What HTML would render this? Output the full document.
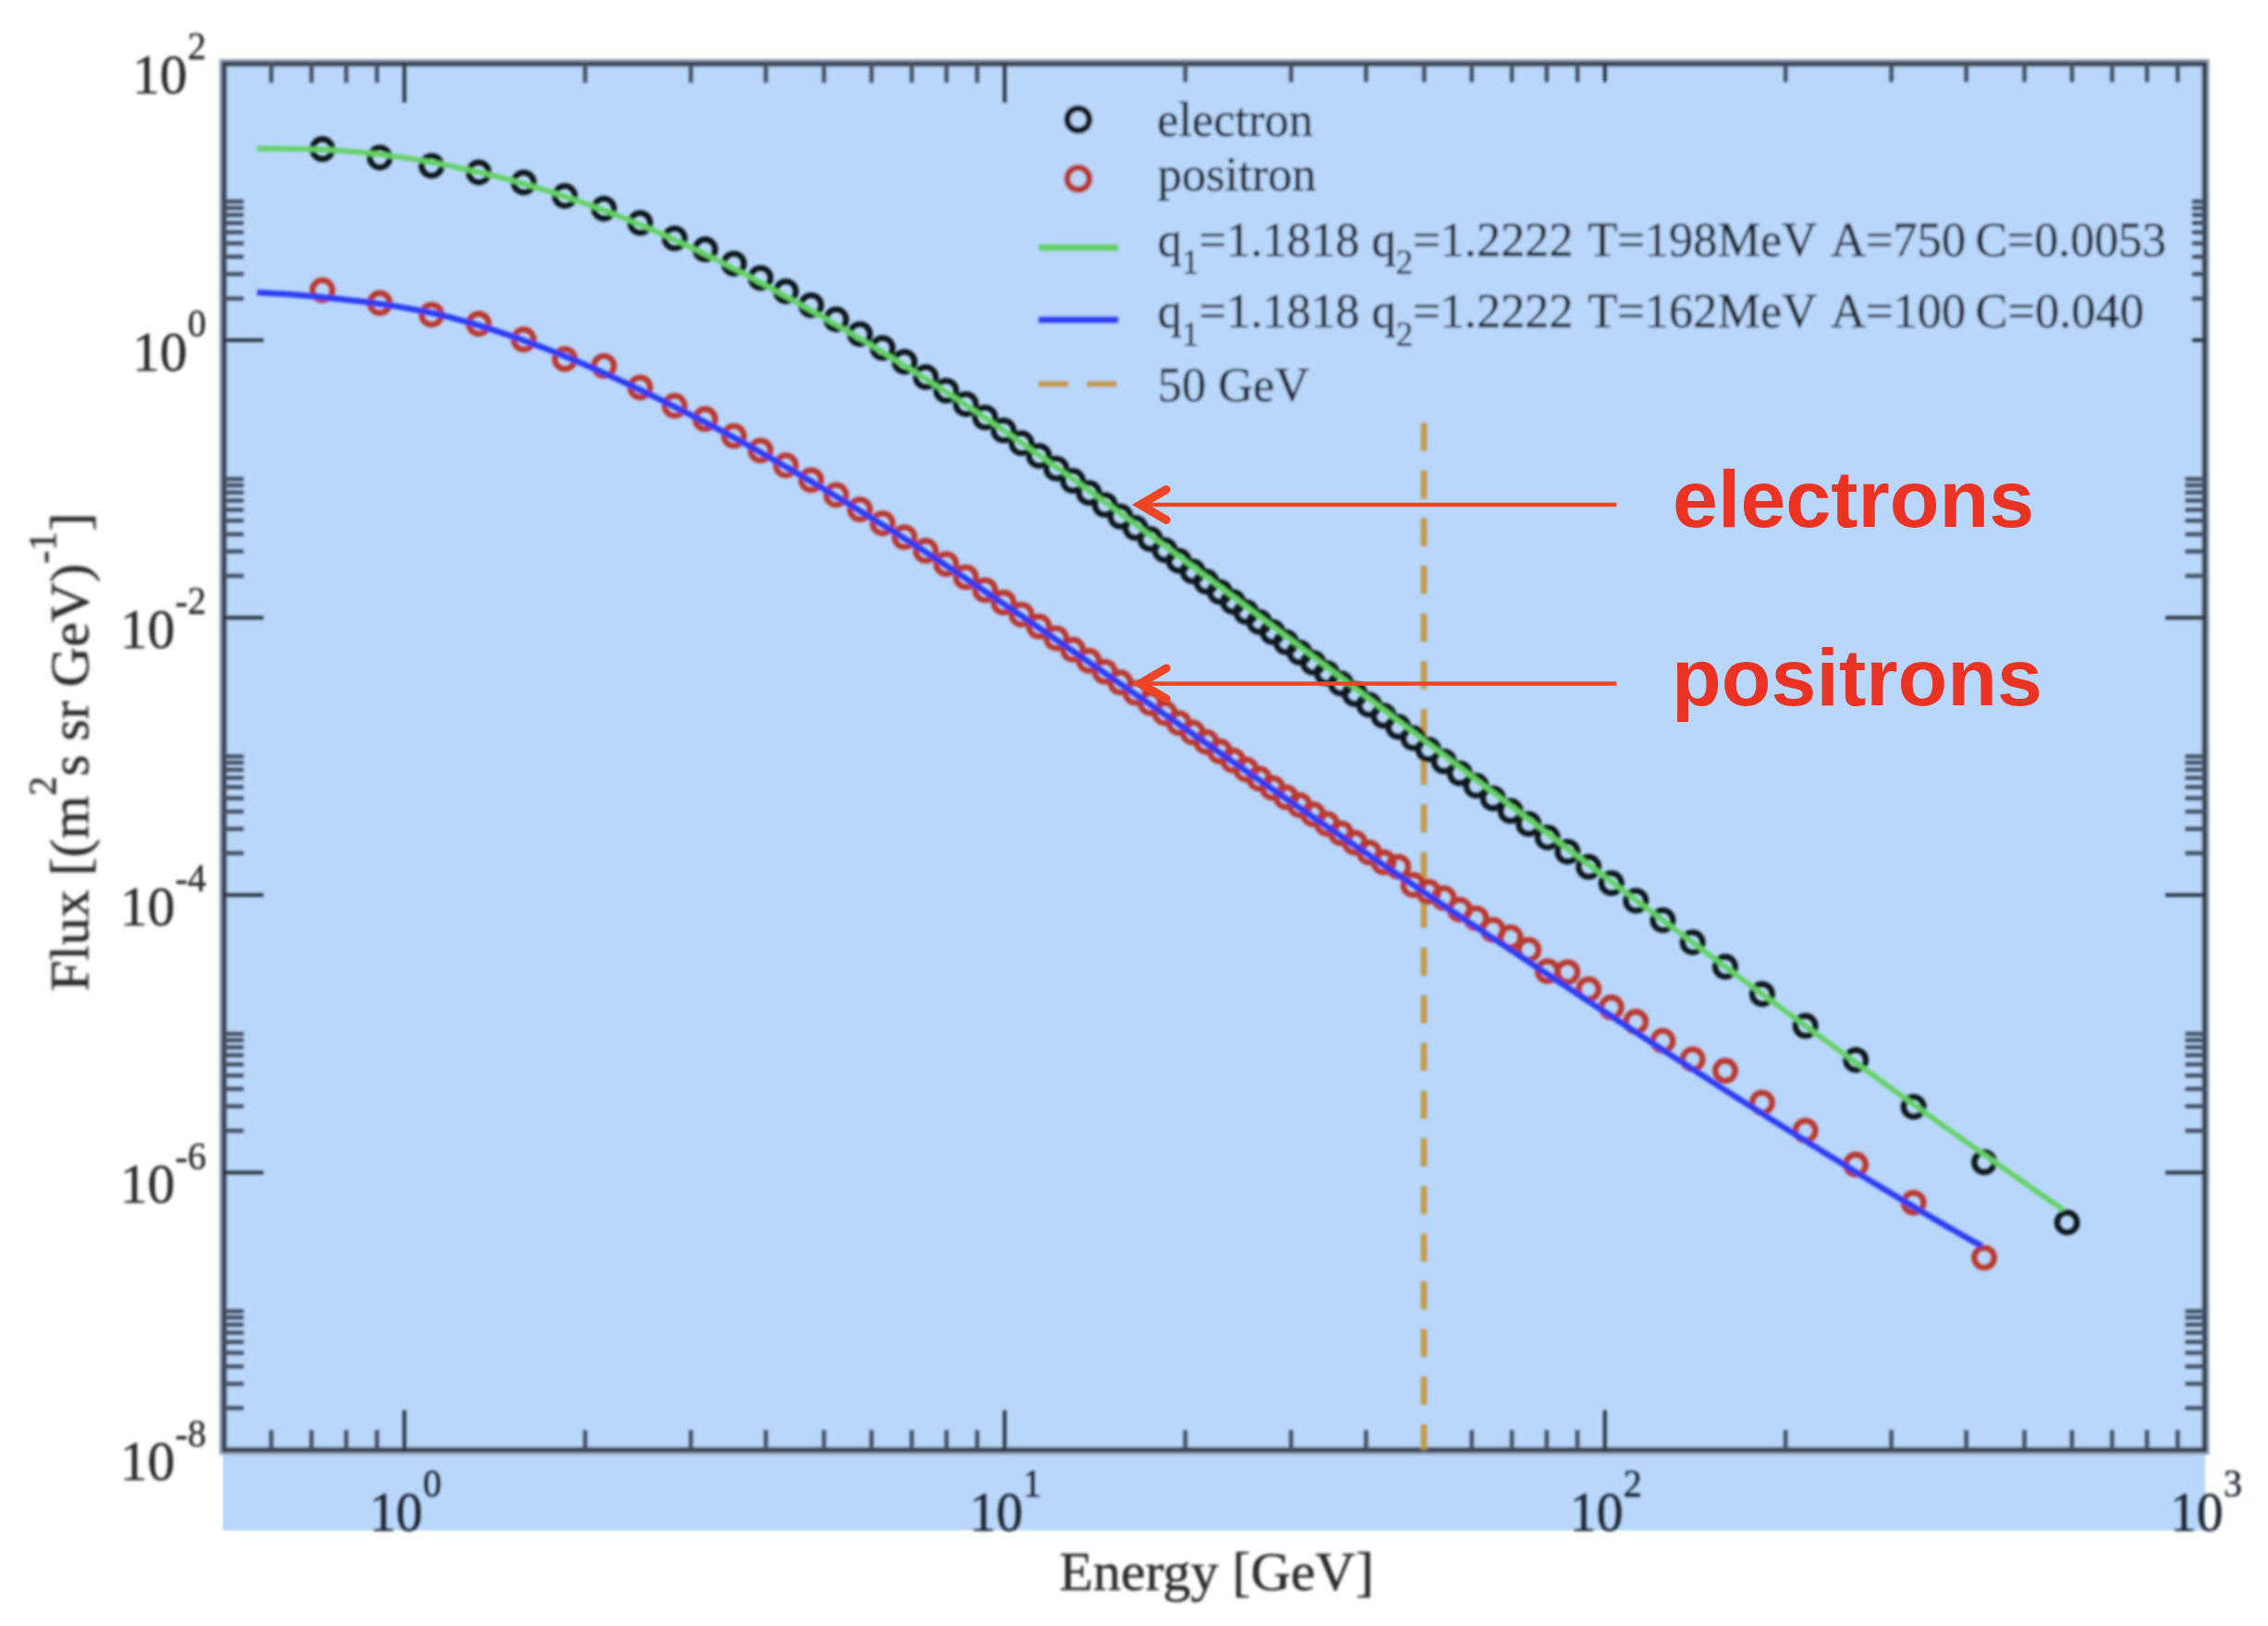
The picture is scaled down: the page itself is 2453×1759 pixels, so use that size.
<!DOCTYPE html><html><head><meta charset="utf-8"><title>Flux</title>
<style>html,body{margin:0;padding:0;background:#fff}svg{display:block}text{font-family:"Liberation Serif",serif}.pl text{stroke-width:0.5px;paint-order:stroke}.sans{font-family:"Liberation Sans",sans-serif;font-weight:bold}</style></head><body>
<svg width="2453" height="1759" viewBox="0 0 2453 1759">
<defs><filter id="bl" x="-2%" y="-2%" width="104%" height="104%"><feGaussianBlur stdDeviation="1.85"/></filter><filter id="bl2" x="-2%" y="-2%" width="104%" height="104%"><feGaussianBlur stdDeviation="1.2"/></filter></defs>
<rect width="2453" height="1759" fill="#fff"/>
<g filter="url(#bl2)">
<rect x="239.5" y="65.5" width="2148.0" height="1506.0" fill="#b9d7fb"/>
<rect x="241" y="1568" width="2144.2" height="87.6" fill="#b9d7fb"/>
</g>
<g class="pl" filter="url(#bl)">
<rect x="241.6" y="68.3" width="2143.6" height="1501.0" fill="none" stroke="#8b9db6" stroke-width="8.6"/>
<rect x="242.2" y="69" width="2142.5" height="1499.7" fill="none" stroke="#27313d" stroke-width="4.3"/>
<path d="M293.4 1568.5v-21.5M293.4 68.0v21.5" stroke="#435062" stroke-width="4.5"/>
<path d="M336.9 1568.5v-21.5M336.9 68.0v21.5" stroke="#435062" stroke-width="4.5"/>
<path d="M374.5 1568.5v-21.5M374.5 68.0v21.5" stroke="#435062" stroke-width="4.5"/>
<path d="M407.7 1568.5v-21.5M407.7 68.0v21.5" stroke="#435062" stroke-width="4.5"/>
<path d="M437.4 1568.5v-43M437.4 68.0v43" stroke="#26303c" stroke-width="4"/>
<path d="M632.9 1568.5v-21.5M632.9 68.0v21.5" stroke="#435062" stroke-width="4.5"/>
<path d="M747.2 1568.5v-21.5M747.2 68.0v21.5" stroke="#435062" stroke-width="4.5"/>
<path d="M828.3 1568.5v-21.5M828.3 68.0v21.5" stroke="#435062" stroke-width="4.5"/>
<path d="M891.2 1568.5v-21.5M891.2 68.0v21.5" stroke="#435062" stroke-width="4.5"/>
<path d="M942.6 1568.5v-21.5M942.6 68.0v21.5" stroke="#435062" stroke-width="4.5"/>
<path d="M986.1 1568.5v-21.5M986.1 68.0v21.5" stroke="#435062" stroke-width="4.5"/>
<path d="M1023.7 1568.5v-21.5M1023.7 68.0v21.5" stroke="#435062" stroke-width="4.5"/>
<path d="M1056.9 1568.5v-21.5M1056.9 68.0v21.5" stroke="#435062" stroke-width="4.5"/>
<path d="M1086.6 1568.5v-43M1086.6 68.0v43" stroke="#26303c" stroke-width="4"/>
<path d="M1282.0 1568.5v-21.5M1282.0 68.0v21.5" stroke="#435062" stroke-width="4.5"/>
<path d="M1396.4 1568.5v-21.5M1396.4 68.0v21.5" stroke="#435062" stroke-width="4.5"/>
<path d="M1477.5 1568.5v-21.5M1477.5 68.0v21.5" stroke="#435062" stroke-width="4.5"/>
<path d="M1540.4 1568.5v-21.5M1540.4 68.0v21.5" stroke="#435062" stroke-width="4.5"/>
<path d="M1591.8 1568.5v-21.5M1591.8 68.0v21.5" stroke="#435062" stroke-width="4.5"/>
<path d="M1635.2 1568.5v-21.5M1635.2 68.0v21.5" stroke="#435062" stroke-width="4.5"/>
<path d="M1672.9 1568.5v-21.5M1672.9 68.0v21.5" stroke="#435062" stroke-width="4.5"/>
<path d="M1706.1 1568.5v-21.5M1706.1 68.0v21.5" stroke="#435062" stroke-width="4.5"/>
<path d="M1735.8 1568.5v-43M1735.8 68.0v43" stroke="#26303c" stroke-width="4"/>
<path d="M1931.2 1568.5v-21.5M1931.2 68.0v21.5" stroke="#435062" stroke-width="4.5"/>
<path d="M2045.6 1568.5v-21.5M2045.6 68.0v21.5" stroke="#435062" stroke-width="4.5"/>
<path d="M2126.7 1568.5v-21.5M2126.7 68.0v21.5" stroke="#435062" stroke-width="4.5"/>
<path d="M2189.6 1568.5v-21.5M2189.6 68.0v21.5" stroke="#435062" stroke-width="4.5"/>
<path d="M2241.0 1568.5v-21.5M2241.0 68.0v21.5" stroke="#435062" stroke-width="4.5"/>
<path d="M2284.4 1568.5v-21.5M2284.4 68.0v21.5" stroke="#435062" stroke-width="4.5"/>
<path d="M2322.1 1568.5v-21.5M2322.1 68.0v21.5" stroke="#435062" stroke-width="4.5"/>
<path d="M2355.3 1568.5v-21.5M2355.3 68.0v21.5" stroke="#435062" stroke-width="4.5"/>
<path d="M242.0 368.1h43M2385.0 368.1h-43" stroke="#26303c" stroke-width="4"/>
<path d="M242.0 668.2h43M2385.0 668.2h-43" stroke="#26303c" stroke-width="4"/>
<path d="M242.0 968.3h43M2385.0 968.3h-43" stroke="#26303c" stroke-width="4"/>
<path d="M242.0 1268.4h43M2385.0 1268.4h-43" stroke="#26303c" stroke-width="4"/>
<path d="M242.0 322.9h21.5M2385.0 322.9h-21.5" stroke="#435062" stroke-width="4.5"/>
<path d="M242.0 296.5h21.5M2385.0 296.5h-21.5" stroke="#435062" stroke-width="4.5"/>
<path d="M242.0 277.8h21.5M2385.0 277.8h-21.5" stroke="#435062" stroke-width="4.5"/>
<path d="M242.0 263.2h21.5M2385.0 263.2h-21.5" stroke="#435062" stroke-width="4.5"/>
<path d="M242.0 251.3h21.5M2385.0 251.3h-21.5" stroke="#435062" stroke-width="4.5"/>
<path d="M242.0 241.3h21.5M2385.0 241.3h-21.5" stroke="#435062" stroke-width="4.5"/>
<path d="M242.0 232.6h21.5M2385.0 232.6h-21.5" stroke="#435062" stroke-width="4.5"/>
<path d="M242.0 224.9h21.5M2385.0 224.9h-21.5" stroke="#435062" stroke-width="4.5"/>
<path d="M242.0 218.1h21.5M2385.0 218.1h-21.5" stroke="#435062" stroke-width="4.5"/>
<path d="M242.0 623.0h21.5M2385.0 623.0h-21.5" stroke="#435062" stroke-width="4.5"/>
<path d="M242.0 596.6h21.5M2385.0 596.6h-21.5" stroke="#435062" stroke-width="4.5"/>
<path d="M242.0 577.9h21.5M2385.0 577.9h-21.5" stroke="#435062" stroke-width="4.5"/>
<path d="M242.0 563.3h21.5M2385.0 563.3h-21.5" stroke="#435062" stroke-width="4.5"/>
<path d="M242.0 551.4h21.5M2385.0 551.4h-21.5" stroke="#435062" stroke-width="4.5"/>
<path d="M242.0 541.4h21.5M2385.0 541.4h-21.5" stroke="#435062" stroke-width="4.5"/>
<path d="M242.0 532.7h21.5M2385.0 532.7h-21.5" stroke="#435062" stroke-width="4.5"/>
<path d="M242.0 525.0h21.5M2385.0 525.0h-21.5" stroke="#435062" stroke-width="4.5"/>
<path d="M242.0 518.2h21.5M2385.0 518.2h-21.5" stroke="#435062" stroke-width="4.5"/>
<path d="M242.0 923.1h21.5M2385.0 923.1h-21.5" stroke="#435062" stroke-width="4.5"/>
<path d="M242.0 896.7h21.5M2385.0 896.7h-21.5" stroke="#435062" stroke-width="4.5"/>
<path d="M242.0 878.0h21.5M2385.0 878.0h-21.5" stroke="#435062" stroke-width="4.5"/>
<path d="M242.0 863.4h21.5M2385.0 863.4h-21.5" stroke="#435062" stroke-width="4.5"/>
<path d="M242.0 851.5h21.5M2385.0 851.5h-21.5" stroke="#435062" stroke-width="4.5"/>
<path d="M242.0 841.5h21.5M2385.0 841.5h-21.5" stroke="#435062" stroke-width="4.5"/>
<path d="M242.0 832.8h21.5M2385.0 832.8h-21.5" stroke="#435062" stroke-width="4.5"/>
<path d="M242.0 825.1h21.5M2385.0 825.1h-21.5" stroke="#435062" stroke-width="4.5"/>
<path d="M242.0 818.2h21.5M2385.0 818.2h-21.5" stroke="#435062" stroke-width="4.5"/>
<path d="M242.0 1223.2h21.5M2385.0 1223.2h-21.5" stroke="#435062" stroke-width="4.5"/>
<path d="M242.0 1196.8h21.5M2385.0 1196.8h-21.5" stroke="#435062" stroke-width="4.5"/>
<path d="M242.0 1178.1h21.5M2385.0 1178.1h-21.5" stroke="#435062" stroke-width="4.5"/>
<path d="M242.0 1163.5h21.5M2385.0 1163.5h-21.5" stroke="#435062" stroke-width="4.5"/>
<path d="M242.0 1151.6h21.5M2385.0 1151.6h-21.5" stroke="#435062" stroke-width="4.5"/>
<path d="M242.0 1141.6h21.5M2385.0 1141.6h-21.5" stroke="#435062" stroke-width="4.5"/>
<path d="M242.0 1132.9h21.5M2385.0 1132.9h-21.5" stroke="#435062" stroke-width="4.5"/>
<path d="M242.0 1125.2h21.5M2385.0 1125.2h-21.5" stroke="#435062" stroke-width="4.5"/>
<path d="M242.0 1118.4h21.5M2385.0 1118.4h-21.5" stroke="#435062" stroke-width="4.5"/>
<path d="M242.0 1523.3h21.5M2385.0 1523.3h-21.5" stroke="#435062" stroke-width="4.5"/>
<path d="M242.0 1496.9h21.5M2385.0 1496.9h-21.5" stroke="#435062" stroke-width="4.5"/>
<path d="M242.0 1478.2h21.5M2385.0 1478.2h-21.5" stroke="#435062" stroke-width="4.5"/>
<path d="M242.0 1463.6h21.5M2385.0 1463.6h-21.5" stroke="#435062" stroke-width="4.5"/>
<path d="M242.0 1451.7h21.5M2385.0 1451.7h-21.5" stroke="#435062" stroke-width="4.5"/>
<path d="M242.0 1441.7h21.5M2385.0 1441.7h-21.5" stroke="#435062" stroke-width="4.5"/>
<path d="M242.0 1433.0h21.5M2385.0 1433.0h-21.5" stroke="#435062" stroke-width="4.5"/>
<path d="M242.0 1425.3h21.5M2385.0 1425.3h-21.5" stroke="#435062" stroke-width="4.5"/>
<path d="M242.0 1418.5h21.5M2385.0 1418.5h-21.5" stroke="#435062" stroke-width="4.5"/>
<rect x="1101" y="89.5" width="1269.5" height="367.5" fill="#b9d7fb"/>
<path d="M1540 457.3V1568.5" stroke="#c19a49" stroke-width="6.6" stroke-dasharray="30.5 21.1" fill="none"/>
<g id="pos">
<circle cx="348.7" cy="314.0" r="10.8" fill="none" stroke="#b9382d" stroke-width="6.3"/>
<circle cx="410.8" cy="327.8" r="10.8" fill="none" stroke="#b9382d" stroke-width="6.3"/>
<circle cx="466.8" cy="340.4" r="10.8" fill="none" stroke="#b9382d" stroke-width="6.3"/>
<circle cx="517.8" cy="350.3" r="10.8" fill="none" stroke="#b9382d" stroke-width="6.3"/>
<circle cx="566.4" cy="367.3" r="10.8" fill="none" stroke="#b9382d" stroke-width="6.3"/>
<circle cx="610.9" cy="388.4" r="10.8" fill="none" stroke="#b9382d" stroke-width="6.3"/>
<circle cx="653.2" cy="395.9" r="10.8" fill="none" stroke="#b9382d" stroke-width="6.3"/>
<circle cx="692.4" cy="419.2" r="10.8" fill="none" stroke="#b9382d" stroke-width="6.3"/>
<circle cx="729.7" cy="439.0" r="10.8" fill="none" stroke="#b9382d" stroke-width="6.3"/>
<circle cx="762.7" cy="453.3" r="10.8" fill="none" stroke="#b9382d" stroke-width="6.3"/>
<circle cx="793.8" cy="471.6" r="10.8" fill="none" stroke="#b9382d" stroke-width="6.3"/>
<circle cx="822.6" cy="487.4" r="10.8" fill="none" stroke="#b9382d" stroke-width="6.3"/>
<circle cx="850.0" cy="503.5" r="10.8" fill="none" stroke="#b9382d" stroke-width="6.3"/>
<circle cx="877.3" cy="519.4" r="10.8" fill="none" stroke="#b9382d" stroke-width="6.3"/>
<circle cx="904.4" cy="535.5" r="10.8" fill="none" stroke="#b9382d" stroke-width="6.3"/>
<circle cx="930.1" cy="551.1" r="10.8" fill="none" stroke="#b9382d" stroke-width="6.3"/>
<circle cx="954.6" cy="566.2" r="10.8" fill="none" stroke="#b9382d" stroke-width="6.3"/>
<circle cx="978.3" cy="581.1" r="10.8" fill="none" stroke="#b9382d" stroke-width="6.3"/>
<circle cx="1001.3" cy="595.8" r="10.8" fill="none" stroke="#b9382d" stroke-width="6.3"/>
<circle cx="1023.4" cy="610.2" r="10.8" fill="none" stroke="#b9382d" stroke-width="6.3"/>
<circle cx="1044.7" cy="624.4" r="10.8" fill="none" stroke="#b9382d" stroke-width="6.3"/>
<circle cx="1065.5" cy="638.4" r="10.8" fill="none" stroke="#b9382d" stroke-width="6.3"/>
<circle cx="1085.5" cy="651.8" r="10.8" fill="none" stroke="#b9382d" stroke-width="6.3"/>
<circle cx="1104.9" cy="664.9" r="10.8" fill="none" stroke="#b9382d" stroke-width="6.3"/>
<circle cx="1123.8" cy="677.8" r="10.8" fill="none" stroke="#b9382d" stroke-width="6.3"/>
<circle cx="1142.5" cy="690.5" r="10.8" fill="none" stroke="#b9382d" stroke-width="6.3"/>
<circle cx="1160.4" cy="702.8" r="10.8" fill="none" stroke="#b9382d" stroke-width="6.3"/>
<circle cx="1177.8" cy="714.8" r="10.8" fill="none" stroke="#b9382d" stroke-width="6.3"/>
<circle cx="1195.0" cy="726.7" r="10.8" fill="none" stroke="#b9382d" stroke-width="6.3"/>
<circle cx="1211.8" cy="738.3" r="10.8" fill="none" stroke="#b9382d" stroke-width="6.3"/>
<circle cx="1228.1" cy="749.6" r="10.8" fill="none" stroke="#b9382d" stroke-width="6.3"/>
<circle cx="1244.1" cy="760.6" r="10.8" fill="none" stroke="#b9382d" stroke-width="6.3"/>
<circle cx="1259.8" cy="771.5" r="10.8" fill="none" stroke="#b9382d" stroke-width="6.3"/>
<circle cx="1275.0" cy="782.1" r="10.8" fill="none" stroke="#b9382d" stroke-width="6.3"/>
<circle cx="1290.1" cy="792.5" r="10.8" fill="none" stroke="#b9382d" stroke-width="6.3"/>
<circle cx="1304.8" cy="802.7" r="10.8" fill="none" stroke="#b9382d" stroke-width="6.3"/>
<circle cx="1319.4" cy="812.8" r="10.8" fill="none" stroke="#b9382d" stroke-width="6.3"/>
<circle cx="1333.6" cy="822.7" r="10.8" fill="none" stroke="#b9382d" stroke-width="6.3"/>
<circle cx="1347.8" cy="832.5" r="10.8" fill="none" stroke="#b9382d" stroke-width="6.3"/>
<circle cx="1362.1" cy="842.5" r="10.8" fill="none" stroke="#b9382d" stroke-width="6.3"/>
<circle cx="1376.4" cy="852.4" r="10.8" fill="none" stroke="#b9382d" stroke-width="6.3"/>
<circle cx="1391.0" cy="862.4" r="10.8" fill="none" stroke="#b9382d" stroke-width="6.3"/>
<circle cx="1405.6" cy="871.0" r="10.8" fill="none" stroke="#b9382d" stroke-width="6.3"/>
<circle cx="1420.3" cy="881.0" r="10.8" fill="none" stroke="#b9382d" stroke-width="6.3"/>
<circle cx="1435.2" cy="891.2" r="10.8" fill="none" stroke="#b9382d" stroke-width="6.3"/>
<circle cx="1450.3" cy="901.4" r="10.8" fill="none" stroke="#b9382d" stroke-width="6.3"/>
<circle cx="1465.4" cy="911.7" r="10.8" fill="none" stroke="#b9382d" stroke-width="6.3"/>
<circle cx="1480.8" cy="922.2" r="10.8" fill="none" stroke="#b9382d" stroke-width="6.3"/>
<circle cx="1496.5" cy="932.8" r="10.8" fill="none" stroke="#b9382d" stroke-width="6.3"/>
<circle cx="1512.3" cy="937.7" r="10.8" fill="none" stroke="#b9382d" stroke-width="6.3"/>
<circle cx="1528.5" cy="957.3" r="10.8" fill="none" stroke="#b9382d" stroke-width="6.3"/>
<circle cx="1544.9" cy="964.6" r="10.8" fill="none" stroke="#b9382d" stroke-width="6.3"/>
<circle cx="1561.7" cy="971.6" r="10.8" fill="none" stroke="#b9382d" stroke-width="6.3"/>
<circle cx="1578.9" cy="984.1" r="10.8" fill="none" stroke="#b9382d" stroke-width="6.3"/>
<circle cx="1596.6" cy="993.4" r="10.8" fill="none" stroke="#b9382d" stroke-width="6.3"/>
<circle cx="1614.8" cy="1006.0" r="10.8" fill="none" stroke="#b9382d" stroke-width="6.3"/>
<circle cx="1633.7" cy="1014.0" r="10.8" fill="none" stroke="#b9382d" stroke-width="6.3"/>
<circle cx="1653.3" cy="1027.5" r="10.8" fill="none" stroke="#b9382d" stroke-width="6.3"/>
<circle cx="1673.8" cy="1050.6" r="10.8" fill="none" stroke="#b9382d" stroke-width="6.3"/>
<circle cx="1695.4" cy="1051.6" r="10.8" fill="none" stroke="#b9382d" stroke-width="6.3"/>
<circle cx="1718.2" cy="1070.2" r="10.8" fill="none" stroke="#b9382d" stroke-width="6.3"/>
<circle cx="1742.8" cy="1089.8" r="10.8" fill="none" stroke="#b9382d" stroke-width="6.3"/>
<circle cx="1769.3" cy="1105.3" r="10.8" fill="none" stroke="#b9382d" stroke-width="6.3"/>
<circle cx="1798.5" cy="1126.0" r="10.8" fill="none" stroke="#b9382d" stroke-width="6.3"/>
<circle cx="1830.7" cy="1146.0" r="10.8" fill="none" stroke="#b9382d" stroke-width="6.3"/>
<circle cx="1866.0" cy="1158.3" r="10.8" fill="none" stroke="#b9382d" stroke-width="6.3"/>
<circle cx="1905.9" cy="1192.8" r="10.8" fill="none" stroke="#b9382d" stroke-width="6.3"/>
<circle cx="1952.7" cy="1223.1" r="10.8" fill="none" stroke="#b9382d" stroke-width="6.3"/>
<circle cx="2007.2" cy="1259.8" r="10.8" fill="none" stroke="#b9382d" stroke-width="6.3"/>
<circle cx="2069.7" cy="1301.1" r="10.8" fill="none" stroke="#b9382d" stroke-width="6.3"/>
<circle cx="2146.1" cy="1360.6" r="10.8" fill="none" stroke="#b9382d" stroke-width="6.3"/>
</g>
<path d="M278.2 316.5 L284.2 316.8 L290.2 317.1 L296.2 317.4 L302.2 317.7 L308.2 318.1 L314.2 318.6 L320.2 319.0 L326.2 319.5 L332.2 320.0 L338.2 320.6 L344.2 321.1 L350.2 321.7 L356.2 322.3 L362.2 322.9 L368.2 323.5 L374.2 324.2 L380.2 324.9 L386.2 325.6 L392.2 326.3 L398.2 327.0 L404.2 327.8 L410.2 328.7 L416.2 329.5 L422.2 330.4 L428.2 331.4 L434.2 332.4 L440.2 333.4 L446.2 334.5 L452.2 335.6 L458.2 336.8 L464.2 338.0 L470.2 339.3 L476.2 340.7 L482.2 342.2 L488.2 343.7 L494.2 345.3 L500.2 346.9 L506.2 348.6 L512.2 350.3 L518.2 352.1 L524.2 353.9 L530.2 355.8 L536.2 357.8 L542.2 359.8 L548.2 361.8 L554.2 363.9 L560.2 366.0 L566.2 368.2 L572.2 370.4 L578.2 372.6 L584.2 374.9 L590.2 377.2 L596.2 379.5 L602.2 381.8 L608.2 384.2 L614.2 386.7 L620.2 389.2 L626.2 391.7 L632.2 394.3 L638.2 396.9 L644.2 399.5 L650.2 402.2 L656.2 404.9 L662.2 407.7 L668.2 410.4 L674.2 413.2 L680.2 416.0 L686.2 418.9 L692.2 421.7 L698.2 424.7 L704.2 427.5 L710.2 430.4 L716.2 433.3 L722.2 436.3 L728.2 439.3 L734.2 442.3 L740.2 445.3 L746.2 448.3 L752.2 451.4 L758.2 454.5 L764.2 457.6 L770.2 460.8 L776.2 463.9 L782.2 467.1 L788.2 470.4 L794.2 473.6 L800.2 476.9 L806.2 480.2 L812.2 483.6 L818.2 486.9 L824.2 490.3 L830.2 493.7 L836.2 497.1 L842.2 500.5 L848.2 504.0 L854.2 507.4 L860.2 510.9 L866.2 514.4 L872.2 517.9 L878.2 521.4 L884.2 525.0 L890.2 528.5 L896.2 532.1 L902.2 535.7 L908.2 539.3 L914.2 542.9 L920.2 546.6 L926.2 550.2 L932.2 553.9 L938.2 557.6 L944.2 561.3 L950.2 565.0 L956.2 568.7 L962.2 572.5 L968.2 576.3 L974.2 580.1 L980.2 583.8 L986.2 587.6 L992.2 591.5 L998.2 595.3 L1004.2 599.2 L1010.2 603.1 L1016.2 607.0 L1022.2 611.0 L1028.2 614.9 L1034.2 618.9 L1040.2 622.9 L1046.2 626.9 L1052.2 630.9 L1058.2 634.9 L1064.2 639.0 L1070.2 643.0 L1076.2 647.0 L1082.2 651.0 L1088.2 655.1 L1094.2 659.1 L1100.2 663.2 L1106.2 667.3 L1112.2 671.4 L1118.2 675.5 L1124.2 679.5 L1130.2 683.6 L1136.2 687.7 L1142.2 691.9 L1148.2 696.0 L1154.2 700.1 L1160.2 704.2 L1166.2 708.3 L1172.2 712.4 L1178.2 716.6 L1184.2 720.7 L1190.2 724.8 L1196.2 729.0 L1202.2 733.1 L1208.2 737.3 L1214.2 741.4 L1220.2 745.6 L1226.2 749.7 L1232.2 753.9 L1238.2 758.0 L1244.2 762.2 L1250.2 766.4 L1256.2 770.5 L1262.2 774.7 L1268.2 778.8 L1274.2 783.0 L1280.2 787.2 L1286.2 791.3 L1292.2 795.5 L1298.2 799.7 L1304.2 803.8 L1310.2 808.0 L1316.2 812.2 L1322.2 816.3 L1328.2 820.5 L1334.2 824.6 L1340.2 828.8 L1346.2 832.9 L1352.2 837.1 L1358.2 841.3 L1364.2 845.4 L1370.2 849.6 L1376.2 853.7 L1382.2 857.9 L1388.2 862.0 L1394.2 866.2 L1400.2 870.3 L1406.2 874.4 L1412.2 878.5 L1418.2 882.6 L1424.2 886.7 L1430.2 890.8 L1436.2 894.9 L1442.2 898.9 L1448.2 903.0 L1454.2 907.1 L1460.2 911.2 L1466.2 915.3 L1472.2 919.3 L1478.2 923.4 L1484.2 927.4 L1490.2 931.5 L1496.2 935.6 L1502.2 939.6 L1508.2 943.7 L1514.2 947.7 L1520.2 951.8 L1526.2 955.8 L1532.2 959.8 L1538.2 963.9 L1544.2 967.9 L1550.2 971.9 L1556.2 975.9 L1562.2 980.0 L1568.2 984.0 L1574.2 988.0 L1580.2 992.0 L1586.2 996.0 L1592.2 1000.0 L1598.2 1004.0 L1604.2 1008.0 L1610.2 1012.0 L1616.2 1015.9 L1622.2 1019.9 L1628.2 1023.9 L1634.2 1027.9 L1640.2 1031.8 L1646.2 1035.8 L1652.2 1039.8 L1658.2 1043.7 L1664.2 1047.7 L1670.2 1051.6 L1676.2 1055.5 L1682.2 1059.5 L1688.2 1063.4 L1694.2 1067.3 L1700.2 1071.3 L1706.2 1075.2 L1712.2 1079.2 L1718.2 1083.2 L1724.2 1087.1 L1730.2 1091.1 L1736.2 1095.0 L1742.2 1099.0 L1748.2 1102.9 L1754.2 1106.9 L1760.2 1110.8 L1766.2 1114.7 L1772.2 1118.6 L1778.2 1122.6 L1784.2 1126.5 L1790.2 1130.4 L1796.2 1134.3 L1802.2 1138.2 L1808.2 1142.1 L1814.2 1146.0 L1820.2 1149.8 L1826.2 1153.7 L1832.2 1157.6 L1838.2 1161.5 L1844.2 1165.3 L1850.2 1169.2 L1856.2 1173.0 L1862.2 1176.9 L1868.2 1180.7 L1874.2 1184.6 L1880.2 1188.4 L1886.2 1192.2 L1892.2 1196.0 L1898.2 1199.8 L1904.2 1203.6 L1910.2 1207.4 L1916.2 1211.2 L1922.2 1215.0 L1928.2 1218.8 L1934.2 1222.6 L1940.2 1226.3 L1946.2 1230.1 L1952.2 1233.8 L1958.2 1237.6 L1964.2 1241.3 L1970.2 1245.0 L1976.2 1248.7 L1982.2 1252.4 L1988.2 1256.1 L1994.2 1259.8 L2000.2 1263.5 L2006.2 1267.2 L2012.2 1270.9 L2018.2 1274.5 L2024.2 1278.2 L2030.2 1281.8 L2036.2 1285.4 L2042.2 1289.0 L2048.2 1292.6 L2054.2 1296.2 L2060.2 1299.8 L2066.2 1303.4 L2072.2 1307.0 L2078.2 1310.5 L2084.2 1314.0 L2090.2 1317.6 L2096.2 1321.1 L2102.2 1324.6 L2108.2 1328.1 L2114.2 1331.5 L2120.2 1335.0 L2126.2 1338.4 L2132.2 1341.8 L2143.6 1348.2" fill="none" stroke="#2b3ef2" stroke-width="6.5" stroke-linejoin="round"/>
<g id="ele">
<circle cx="348.7" cy="161.3" r="10.8" fill="none" stroke="#10151b" stroke-width="6.3"/>
<circle cx="410.8" cy="170.5" r="10.8" fill="none" stroke="#10151b" stroke-width="6.3"/>
<circle cx="466.8" cy="179.4" r="10.8" fill="none" stroke="#10151b" stroke-width="6.3"/>
<circle cx="517.8" cy="186.5" r="10.8" fill="none" stroke="#10151b" stroke-width="6.3"/>
<circle cx="566.4" cy="197.4" r="10.8" fill="none" stroke="#10151b" stroke-width="6.3"/>
<circle cx="610.9" cy="212.0" r="10.8" fill="none" stroke="#10151b" stroke-width="6.3"/>
<circle cx="653.2" cy="225.7" r="10.8" fill="none" stroke="#10151b" stroke-width="6.3"/>
<circle cx="692.4" cy="241.1" r="10.8" fill="none" stroke="#10151b" stroke-width="6.3"/>
<circle cx="729.7" cy="257.9" r="10.8" fill="none" stroke="#10151b" stroke-width="6.3"/>
<circle cx="762.7" cy="269.8" r="10.8" fill="none" stroke="#10151b" stroke-width="6.3"/>
<circle cx="793.8" cy="285.2" r="10.8" fill="none" stroke="#10151b" stroke-width="6.3"/>
<circle cx="822.6" cy="300.6" r="10.8" fill="none" stroke="#10151b" stroke-width="6.3"/>
<circle cx="850.0" cy="315.1" r="10.8" fill="none" stroke="#10151b" stroke-width="6.3"/>
<circle cx="877.3" cy="330.1" r="10.8" fill="none" stroke="#10151b" stroke-width="6.3"/>
<circle cx="904.4" cy="345.5" r="10.8" fill="none" stroke="#10151b" stroke-width="6.3"/>
<circle cx="930.1" cy="361.4" r="10.8" fill="none" stroke="#10151b" stroke-width="6.3"/>
<circle cx="954.6" cy="376.4" r="10.8" fill="none" stroke="#10151b" stroke-width="6.3"/>
<circle cx="978.3" cy="391.4" r="10.8" fill="none" stroke="#10151b" stroke-width="6.3"/>
<circle cx="1001.3" cy="407.9" r="10.8" fill="none" stroke="#10151b" stroke-width="6.3"/>
<circle cx="1023.4" cy="422.6" r="10.8" fill="none" stroke="#10151b" stroke-width="6.3"/>
<circle cx="1044.7" cy="437.2" r="10.8" fill="none" stroke="#10151b" stroke-width="6.3"/>
<circle cx="1065.5" cy="451.6" r="10.8" fill="none" stroke="#10151b" stroke-width="6.3"/>
<circle cx="1085.5" cy="465.7" r="10.8" fill="none" stroke="#10151b" stroke-width="6.3"/>
<circle cx="1104.9" cy="479.5" r="10.8" fill="none" stroke="#10151b" stroke-width="6.3"/>
<circle cx="1123.8" cy="493.2" r="10.8" fill="none" stroke="#10151b" stroke-width="6.3"/>
<circle cx="1142.5" cy="506.9" r="10.8" fill="none" stroke="#10151b" stroke-width="6.3"/>
<circle cx="1160.4" cy="520.1" r="10.8" fill="none" stroke="#10151b" stroke-width="6.3"/>
<circle cx="1177.8" cy="533.2" r="10.8" fill="none" stroke="#10151b" stroke-width="6.3"/>
<circle cx="1195.0" cy="546.1" r="10.8" fill="none" stroke="#10151b" stroke-width="6.3"/>
<circle cx="1211.8" cy="558.8" r="10.8" fill="none" stroke="#10151b" stroke-width="6.3"/>
<circle cx="1228.1" cy="571.1" r="10.8" fill="none" stroke="#10151b" stroke-width="6.3"/>
<circle cx="1244.1" cy="583.2" r="10.8" fill="none" stroke="#10151b" stroke-width="6.3"/>
<circle cx="1259.8" cy="595.1" r="10.8" fill="none" stroke="#10151b" stroke-width="6.3"/>
<circle cx="1275.0" cy="606.7" r="10.8" fill="none" stroke="#10151b" stroke-width="6.3"/>
<circle cx="1290.1" cy="618.2" r="10.8" fill="none" stroke="#10151b" stroke-width="6.3"/>
<circle cx="1304.8" cy="629.3" r="10.8" fill="none" stroke="#10151b" stroke-width="6.3"/>
<circle cx="1319.4" cy="640.4" r="10.8" fill="none" stroke="#10151b" stroke-width="6.3"/>
<circle cx="1333.6" cy="651.2" r="10.8" fill="none" stroke="#10151b" stroke-width="6.3"/>
<circle cx="1347.8" cy="662.1" r="10.8" fill="none" stroke="#10151b" stroke-width="6.3"/>
<circle cx="1362.1" cy="672.9" r="10.8" fill="none" stroke="#10151b" stroke-width="6.3"/>
<circle cx="1376.4" cy="683.8" r="10.8" fill="none" stroke="#10151b" stroke-width="6.3"/>
<circle cx="1391.0" cy="694.8" r="10.8" fill="none" stroke="#10151b" stroke-width="6.3"/>
<circle cx="1405.6" cy="705.9" r="10.8" fill="none" stroke="#10151b" stroke-width="6.3"/>
<circle cx="1420.3" cy="716.9" r="10.8" fill="none" stroke="#10151b" stroke-width="6.3"/>
<circle cx="1435.2" cy="728.1" r="10.8" fill="none" stroke="#10151b" stroke-width="6.3"/>
<circle cx="1450.3" cy="739.5" r="10.8" fill="none" stroke="#10151b" stroke-width="6.3"/>
<circle cx="1465.4" cy="750.9" r="10.8" fill="none" stroke="#10151b" stroke-width="6.3"/>
<circle cx="1480.8" cy="762.5" r="10.8" fill="none" stroke="#10151b" stroke-width="6.3"/>
<circle cx="1496.5" cy="774.3" r="10.8" fill="none" stroke="#10151b" stroke-width="6.3"/>
<circle cx="1512.3" cy="786.3" r="10.8" fill="none" stroke="#10151b" stroke-width="6.3"/>
<circle cx="1528.5" cy="798.5" r="10.8" fill="none" stroke="#10151b" stroke-width="6.3"/>
<circle cx="1544.9" cy="810.9" r="10.8" fill="none" stroke="#10151b" stroke-width="6.3"/>
<circle cx="1561.7" cy="823.6" r="10.8" fill="none" stroke="#10151b" stroke-width="6.3"/>
<circle cx="1578.9" cy="836.6" r="10.8" fill="none" stroke="#10151b" stroke-width="6.3"/>
<circle cx="1596.6" cy="850.0" r="10.8" fill="none" stroke="#10151b" stroke-width="6.3"/>
<circle cx="1614.8" cy="863.7" r="10.8" fill="none" stroke="#10151b" stroke-width="6.3"/>
<circle cx="1633.7" cy="877.3" r="10.8" fill="none" stroke="#10151b" stroke-width="6.3"/>
<circle cx="1653.3" cy="891.4" r="10.8" fill="none" stroke="#10151b" stroke-width="6.3"/>
<circle cx="1673.8" cy="906.0" r="10.8" fill="none" stroke="#10151b" stroke-width="6.3"/>
<circle cx="1695.4" cy="921.4" r="10.8" fill="none" stroke="#10151b" stroke-width="6.3"/>
<circle cx="1718.2" cy="937.8" r="10.8" fill="none" stroke="#10151b" stroke-width="6.3"/>
<circle cx="1742.8" cy="955.4" r="10.8" fill="none" stroke="#10151b" stroke-width="6.3"/>
<circle cx="1769.3" cy="974.4" r="10.8" fill="none" stroke="#10151b" stroke-width="6.3"/>
<circle cx="1798.5" cy="995.5" r="10.8" fill="none" stroke="#10151b" stroke-width="6.3"/>
<circle cx="1830.7" cy="1019.5" r="10.8" fill="none" stroke="#10151b" stroke-width="6.3"/>
<circle cx="1866.0" cy="1045.8" r="10.8" fill="none" stroke="#10151b" stroke-width="6.3"/>
<circle cx="1905.9" cy="1075.3" r="10.8" fill="none" stroke="#10151b" stroke-width="6.3"/>
<circle cx="1952.7" cy="1109.8" r="10.8" fill="none" stroke="#10151b" stroke-width="6.3"/>
<circle cx="2007.2" cy="1146.7" r="10.8" fill="none" stroke="#10151b" stroke-width="6.3"/>
<circle cx="2069.7" cy="1197.4" r="10.8" fill="none" stroke="#10151b" stroke-width="6.3"/>
<circle cx="2146.1" cy="1257.3" r="10.8" fill="none" stroke="#10151b" stroke-width="6.3"/>
<circle cx="2235.7" cy="1322.5" r="10.8" fill="none" stroke="#10151b" stroke-width="6.3"/>
</g>
<path d="M278.2 160.7 L284.2 160.8 L290.2 160.8 L296.2 160.9 L302.2 160.9 L308.2 161.0 L314.2 161.1 L320.2 161.1 L326.2 161.2 L332.2 161.3 L338.2 161.5 L344.2 161.6 L350.2 161.8 L356.2 162.0 L362.2 162.3 L368.2 162.8 L374.2 163.3 L380.2 163.8 L386.2 164.4 L392.2 165.1 L398.2 165.7 L404.2 166.4 L410.2 167.0 L416.2 167.7 L422.2 168.5 L428.2 169.3 L434.2 170.2 L440.2 171.1 L446.2 172.0 L452.2 173.0 L458.2 174.0 L464.2 175.0 L470.2 176.1 L476.2 177.3 L482.2 178.5 L488.2 179.8 L494.2 181.1 L500.2 182.4 L506.2 183.7 L512.2 185.1 L518.2 186.4 L524.2 187.8 L530.2 189.2 L536.2 190.6 L542.2 192.1 L548.2 193.7 L554.2 195.3 L560.2 197.0 L566.2 198.7 L572.2 200.4 L578.2 202.2 L584.2 204.0 L590.2 205.9 L596.2 207.8 L602.2 209.7 L608.2 211.7 L614.2 213.7 L620.2 215.7 L626.2 217.8 L632.2 219.9 L638.2 222.0 L644.2 224.2 L650.2 226.5 L656.2 228.7 L662.2 231.0 L668.2 233.4 L674.2 235.7 L680.2 238.2 L686.2 240.6 L692.2 243.1 L698.2 245.6 L704.2 248.2 L710.2 250.8 L716.2 253.4 L722.2 256.1 L728.2 258.8 L734.2 261.5 L740.2 264.3 L746.2 267.1 L752.2 270.0 L758.2 272.8 L764.2 275.8 L770.2 278.7 L776.2 281.7 L782.2 284.7 L788.2 287.8 L794.2 290.8 L800.2 294.0 L806.2 297.1 L812.2 300.3 L818.2 303.5 L824.2 306.7 L830.2 309.9 L836.2 313.2 L842.2 316.4 L848.2 319.7 L854.2 323.1 L860.2 326.4 L866.2 329.7 L872.2 333.1 L878.2 336.5 L884.2 339.9 L890.2 343.3 L896.2 346.7 L902.2 350.1 L908.2 353.6 L914.2 357.1 L920.2 360.6 L926.2 364.1 L932.2 367.6 L938.2 371.1 L944.2 374.7 L950.2 378.3 L956.2 381.9 L962.2 385.6 L968.2 389.2 L974.2 392.9 L980.2 396.6 L986.2 400.4 L992.2 404.1 L998.2 407.9 L1004.2 411.7 L1010.2 415.6 L1016.2 419.4 L1022.2 423.3 L1028.2 427.2 L1034.2 431.2 L1040.2 435.1 L1046.2 439.1 L1052.2 443.1 L1058.2 447.1 L1064.2 451.2 L1070.2 455.2 L1076.2 459.3 L1082.2 463.4 L1088.2 467.5 L1094.2 471.6 L1100.2 475.8 L1106.2 479.9 L1112.2 484.1 L1118.2 488.3 L1124.2 492.5 L1130.2 496.7 L1136.2 501.0 L1142.2 505.2 L1148.2 509.5 L1154.2 513.7 L1160.2 518.0 L1166.2 522.3 L1172.2 526.6 L1178.2 530.9 L1184.2 535.3 L1190.2 539.6 L1196.2 544.0 L1202.2 548.3 L1208.2 552.7 L1214.2 557.1 L1220.2 561.4 L1226.2 565.8 L1232.2 570.2 L1238.2 574.7 L1244.2 579.1 L1250.2 583.5 L1256.2 587.9 L1262.2 592.4 L1268.2 596.8 L1274.2 601.2 L1280.2 605.7 L1286.2 610.1 L1292.2 614.6 L1298.2 619.1 L1304.2 623.5 L1310.2 628.0 L1316.2 632.5 L1322.2 636.9 L1328.2 641.4 L1334.2 645.9 L1340.2 650.4 L1346.2 654.9 L1352.2 659.3 L1358.2 663.8 L1364.2 668.3 L1370.2 672.8 L1376.2 677.3 L1382.2 681.8 L1388.2 686.3 L1394.2 690.8 L1400.2 695.3 L1406.2 699.8 L1412.2 704.3 L1418.2 708.8 L1424.2 713.4 L1430.2 717.9 L1436.2 722.4 L1442.2 726.9 L1448.2 731.4 L1454.2 735.9 L1460.2 740.5 L1466.2 745.0 L1472.2 749.5 L1478.2 754.0 L1484.2 758.6 L1490.2 763.1 L1496.2 767.6 L1502.2 772.1 L1508.2 776.7 L1514.2 781.2 L1520.2 785.7 L1526.2 790.3 L1532.2 794.8 L1538.2 799.3 L1544.2 803.9 L1550.2 808.4 L1556.2 812.9 L1562.2 817.5 L1568.2 822.0 L1574.2 826.5 L1580.2 831.1 L1586.2 835.6 L1592.2 840.1 L1598.2 844.7 L1604.2 849.2 L1610.2 853.7 L1616.2 858.3 L1622.2 862.8 L1628.2 867.3 L1634.2 871.9 L1640.2 876.4 L1646.2 880.9 L1652.2 885.5 L1658.2 890.0 L1664.2 894.5 L1670.2 899.0 L1676.2 903.6 L1682.2 908.1 L1688.2 912.6 L1694.2 917.1 L1700.2 921.7 L1706.2 926.2 L1712.2 930.7 L1718.2 935.2 L1724.2 939.7 L1730.2 944.2 L1736.2 948.8 L1742.2 953.3 L1748.2 957.8 L1754.2 962.3 L1760.2 966.8 L1766.2 971.3 L1772.2 975.8 L1778.2 980.3 L1784.2 984.8 L1790.2 989.3 L1796.2 993.8 L1802.2 998.2 L1808.2 1002.7 L1814.2 1007.2 L1820.2 1011.7 L1826.2 1016.2 L1832.2 1020.6 L1838.2 1025.1 L1844.2 1029.6 L1850.2 1034.1 L1856.2 1038.5 L1862.2 1043.0 L1868.2 1047.4 L1874.2 1051.9 L1880.2 1056.3 L1886.2 1060.8 L1892.2 1065.2 L1898.2 1069.7 L1904.2 1074.1 L1910.2 1078.5 L1916.2 1083.0 L1922.2 1087.4 L1928.2 1091.8 L1934.2 1096.2 L1940.2 1100.6 L1946.2 1105.0 L1952.2 1109.4 L1958.2 1113.8 L1964.2 1118.2 L1970.2 1122.6 L1976.2 1127.0 L1982.2 1131.4 L1988.2 1135.8 L1994.2 1140.1 L2000.2 1144.5 L2006.2 1148.9 L2012.2 1153.2 L2018.2 1157.6 L2024.2 1161.9 L2030.2 1166.3 L2036.2 1170.6 L2042.2 1175.0 L2048.2 1179.3 L2054.2 1183.6 L2060.2 1187.9 L2066.2 1192.2 L2072.2 1196.5 L2078.2 1200.8 L2084.2 1205.1 L2090.2 1209.4 L2096.2 1213.7 L2102.2 1218.0 L2108.2 1222.3 L2114.2 1226.5 L2120.2 1230.8 L2126.2 1235.0 L2132.2 1239.3 L2138.2 1243.5 L2144.2 1247.8 L2150.2 1252.0 L2156.2 1256.2 L2162.2 1260.4 L2168.2 1264.6 L2174.2 1268.9 L2180.2 1273.0 L2186.2 1277.2 L2192.2 1281.4 L2198.2 1285.6 L2204.2 1289.8 L2210.2 1293.9 L2216.2 1298.1 L2222.2 1302.2 L2232.0 1309.0" fill="none" stroke="#63d265" stroke-width="5.7" stroke-linejoin="round"/>
<circle cx="1166.2" cy="129.3" r="12" fill="none" stroke="#10151b" stroke-width="7"/>
<circle cx="1166.2" cy="193.2" r="12" fill="none" stroke="#b9382d" stroke-width="7"/>
<path d="M1123 267.8H1209.7" stroke="#63d265" stroke-width="7.4"/>
<path d="M1123 346H1209.7" stroke="#2b3ef2" stroke-width="7.4"/>
<path d="M1123 415.4H1208.5" stroke="#c19a49" stroke-width="6.6" stroke-dasharray="32.5 20"/>
<g fill="#1b242f" stroke="#1b242f" font-size="52.4">
<text x="1251.5" y="147.3">electron</text>
<text x="1252" y="205.5">positron</text>
<text x="1252" y="276.8">q<tspan dy="19.5" font-size="37">1</tspan><tspan dy="-19.5">=1.1818 q</tspan><tspan dy="19.5" font-size="37">2</tspan><tspan dy="-19.5">=1.2222</tspan></text>
<text x="1717.3" y="276.8">T=198MeV</text>
<text x="1980.2" y="276.8">A=750</text>
<text x="2136.5" y="276.8" textLength="206.5" lengthAdjust="spacingAndGlyphs">C=0.0053</text>
<text x="1252" y="354.3">q<tspan dy="19.5" font-size="37">1</tspan><tspan dy="-19.5">=1.1818 q</tspan><tspan dy="19.5" font-size="37">2</tspan><tspan dy="-19.5">=1.2222</tspan></text>
<text x="1717.3" y="354.3">T=162MeV</text>
<text x="1980.2" y="354.3">A=100</text>
<text x="2136.5" y="354.3">C=0.040</text>
<text x="1252" y="433.6">50 GeV</text>
</g>
<text x="143.1" y="100.6" font-size="62" fill="#2a2a2a" stroke="#2a2a2a" textLength="59.5" lengthAdjust="spacingAndGlyphs">10</text>
<text x="202.9" y="64.1" font-size="43" fill="#2a2a2a" stroke="#2a2a2a" textLength="20.0" lengthAdjust="spacingAndGlyphs">2</text>
<text x="143.1" y="400.7" font-size="62" fill="#2a2a2a" stroke="#2a2a2a" textLength="59.5" lengthAdjust="spacingAndGlyphs">10</text>
<text x="202.9" y="364.2" font-size="43" fill="#2a2a2a" stroke="#2a2a2a" textLength="20.0" lengthAdjust="spacingAndGlyphs">0</text>
<text x="129.8" y="700.8" font-size="62" fill="#2a2a2a" stroke="#2a2a2a" textLength="59.5" lengthAdjust="spacingAndGlyphs">10</text>
<text x="189.6" y="664.3" font-size="43" fill="#2a2a2a" stroke="#2a2a2a" textLength="33.3" lengthAdjust="spacingAndGlyphs">-2</text>
<text x="129.8" y="1000.9" font-size="62" fill="#2a2a2a" stroke="#2a2a2a" textLength="59.5" lengthAdjust="spacingAndGlyphs">10</text>
<text x="189.6" y="964.4" font-size="43" fill="#2a2a2a" stroke="#2a2a2a" textLength="33.3" lengthAdjust="spacingAndGlyphs">-4</text>
<text x="129.8" y="1301.0" font-size="62" fill="#2a2a2a" stroke="#2a2a2a" textLength="59.5" lengthAdjust="spacingAndGlyphs">10</text>
<text x="189.6" y="1264.5" font-size="43" fill="#2a2a2a" stroke="#2a2a2a" textLength="33.3" lengthAdjust="spacingAndGlyphs">-6</text>
<text x="129.8" y="1601.1" font-size="62" fill="#2a2a2a" stroke="#2a2a2a" textLength="59.5" lengthAdjust="spacingAndGlyphs">10</text>
<text x="189.6" y="1564.6" font-size="43" fill="#2a2a2a" stroke="#2a2a2a" textLength="33.3" lengthAdjust="spacingAndGlyphs">-8</text>
<text x="399.4" y="1655.8" font-size="62" fill="#1b242f" stroke="#1b242f" textLength="57.7" lengthAdjust="spacingAndGlyphs">10</text>
<text x="457.4" y="1619.3" font-size="43" fill="#1b242f" stroke="#1b242f" textLength="20.0" lengthAdjust="spacingAndGlyphs">0</text>
<text x="1048.6" y="1655.8" font-size="62" fill="#1b242f" stroke="#1b242f" textLength="57.7" lengthAdjust="spacingAndGlyphs">10</text>
<text x="1106.6" y="1619.3" font-size="43" fill="#1b242f" stroke="#1b242f" textLength="20.0" lengthAdjust="spacingAndGlyphs">1</text>
<text x="1697.8" y="1655.8" font-size="62" fill="#1b242f" stroke="#1b242f" textLength="57.7" lengthAdjust="spacingAndGlyphs">10</text>
<text x="1755.8" y="1619.3" font-size="43" fill="#1b242f" stroke="#1b242f" textLength="20.0" lengthAdjust="spacingAndGlyphs">2</text>
<text x="2347.0" y="1655.8" font-size="62" fill="#1b242f" stroke="#1b242f" textLength="57.7" lengthAdjust="spacingAndGlyphs">10</text>
<text x="2405.0" y="1619.3" font-size="43" fill="#1b242f" stroke="#1b242f" textLength="20.0" lengthAdjust="spacingAndGlyphs">3</text>
<text x="1145.5" y="1720" font-size="60" fill="#2a2a2a" stroke="#2a2a2a">Energy [GeV]</text>
<text transform="translate(95.3 1072.5) rotate(-90)" font-size="60" fill="#2a2a2a" stroke="#2a2a2a">Flux [(m<tspan dy="-35" font-size="42">2</tspan><tspan dy="35">s sr GeV)</tspan><tspan dy="-35" font-size="42">-1</tspan><tspan dy="35">]</tspan></text>
</g>
<path d="M1236 546H1748.4" stroke="#ee4526" stroke-width="4.5" fill="none"/>
<path d="M1261.5 529.5L1233.2 546L1261.5 562.5" stroke="#ee4526" stroke-width="9" fill="none" stroke-linecap="round" stroke-linejoin="miter" stroke-miterlimit="10"/>
<path d="M1236 739.4H1748.4" stroke="#ee4526" stroke-width="4.5" fill="none"/>
<path d="M1261.5 722.9L1233.2 739.4L1261.5 755.9" stroke="#ee4526" stroke-width="9" fill="none" stroke-linecap="round" stroke-linejoin="miter" stroke-miterlimit="10"/>
<text class="sans" x="1809" y="569.9" font-size="88" fill="#ea3323">electrons</text>
<text class="sans" x="1808" y="763" font-size="88" fill="#ea3323">positrons</text>
</svg></body></html>
